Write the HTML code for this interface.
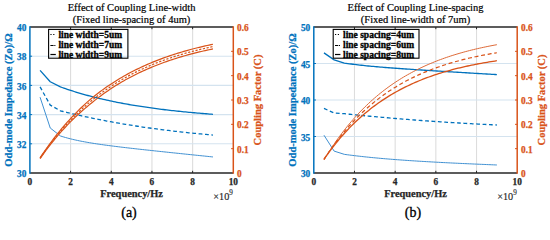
<!DOCTYPE html>
<html><head><meta charset="utf-8"><style>
html,body{margin:0;padding:0;background:#fff;}
svg{display:block;}
text{font-family:"Liberation Serif",serif;}
.t{font-size:10.5px;text-anchor:middle;fill:#000;stroke:#000;stroke-width:0.2px;}
.k{font-size:9.3px;font-weight:bold;text-anchor:middle;fill:#262626;stroke:#262626;stroke-width:0.25px;}
.kb{font-size:9.3px;font-weight:bold;text-anchor:end;fill:#0072BD;stroke:#0072BD;stroke-width:0.25px;}
.ko{font-size:9.3px;font-weight:bold;text-anchor:start;fill:#D95319;stroke:#D95319;stroke-width:0.25px;}
.al{font-size:10.4px;font-weight:bold;text-anchor:middle;fill:#262626;stroke:#262626;stroke-width:0.25px;}
.alb{font-size:10.5px;font-weight:bold;text-anchor:middle;fill:#0072BD;stroke:#0072BD;stroke-width:0.25px;}
.alo{font-size:10.5px;font-weight:bold;text-anchor:middle;fill:#D95319;stroke:#D95319;stroke-width:0.25px;}
.xm{font-size:10.2px;fill:#262626;stroke:#262626;stroke-width:0.15px;}
.lg{font-size:9.5px;font-weight:bold;fill:#000;stroke:#000;stroke-width:0.3px;}
.pl{font-size:14px;text-anchor:middle;fill:#000;stroke:#000;stroke-width:0.3px;}
</style></head><body>
<svg width="550" height="222" viewBox="0 0 550 222">
<rect width="550" height="222" fill="#fff"/>
<text x="131.6" y="10.7" class="t">Effect of Coupling Line-width</text>
<text x="131.6" y="22.5" class="t">(Fixed line-spacing of 4um)</text>
<line x1="70.58" y1="27.0" x2="70.58" y2="173.0" stroke="#DDDDDD" stroke-width="1.1"/>
<line x1="111.26" y1="27.0" x2="111.26" y2="173.0" stroke="#DDDDDD" stroke-width="1.1"/>
<line x1="151.94" y1="27.0" x2="151.94" y2="173.0" stroke="#DDDDDD" stroke-width="1.1"/>
<line x1="192.62" y1="27.0" x2="192.62" y2="173.0" stroke="#DDDDDD" stroke-width="1.1"/>
<line x1="29.9" y1="143.80" x2="233.3" y2="143.80" stroke="#D4E3EF" stroke-width="1.1"/>
<line x1="29.9" y1="114.60" x2="233.3" y2="114.60" stroke="#D4E3EF" stroke-width="1.1"/>
<line x1="29.9" y1="85.40" x2="233.3" y2="85.40" stroke="#D4E3EF" stroke-width="1.1"/>
<line x1="29.9" y1="56.20" x2="233.3" y2="56.20" stroke="#D4E3EF" stroke-width="1.1"/>
<polyline points="40.07,70.36 50.24,81.75 60.41,86.87 62.12,87.49 63.84,88.09 65.55,88.69 67.27,89.27 68.98,89.85 70.69,90.41 72.41,90.96 74.12,91.50 75.84,92.04 77.55,92.56 79.26,93.07 80.98,93.58 82.69,94.07 84.41,94.56 86.12,95.03 87.83,95.50 89.55,95.96 91.26,96.41 92.98,96.85 94.69,97.29 96.40,97.71 98.12,98.13 99.83,98.54 101.55,98.95 103.26,99.34 104.98,99.73 106.69,100.11 108.40,100.49 110.12,100.86 111.83,101.22 113.55,101.58 115.26,101.92 116.97,102.27 118.69,102.60 120.40,102.93 122.12,103.26 123.83,103.58 125.54,103.89 127.26,104.20 128.97,104.50 130.69,104.79 132.40,105.08 134.11,105.37 135.83,105.65 137.54,105.93 139.26,106.20 140.97,106.46 142.68,106.72 144.40,106.98 146.11,107.23 147.83,107.48 149.54,107.72 151.25,107.96 152.97,108.20 154.68,108.43 156.40,108.66 158.11,108.88 159.82,109.10 161.54,109.31 163.25,109.52 164.97,109.73 166.68,109.93 168.39,110.13 170.11,110.33 171.82,110.53 173.54,110.72 175.25,110.90 176.97,111.09 178.68,111.27 180.39,111.44 182.11,111.62 183.82,111.79 185.54,111.96 187.25,112.12 188.96,112.29 190.68,112.45 192.39,112.60 194.11,112.76 195.82,112.91 197.53,113.06 199.25,113.21 200.96,113.35 202.68,113.50 204.39,113.64 206.10,113.77 207.82,113.91 209.53,114.04 211.25,114.17 212.96,114.30" fill="none" stroke="#0072BD" stroke-width="1.3" stroke-linejoin="round"/>
<polyline points="40.07,86.86 50.24,105.11 60.41,110.81 62.12,111.25 63.84,111.68 65.55,112.10 67.27,112.52 68.98,112.94 70.69,113.35 72.41,113.76 74.12,114.16 75.84,114.56 77.55,114.95 79.26,115.34 80.98,115.73 82.69,116.11 84.41,116.49 86.12,116.86 87.83,117.23 89.55,117.59 91.26,117.95 92.98,118.31 94.69,118.66 96.40,119.01 98.12,119.35 99.83,119.69 101.55,120.03 103.26,120.36 104.98,120.69 106.69,121.02 108.40,121.34 110.12,121.66 111.83,121.97 113.55,122.28 115.26,122.59 116.97,122.89 118.69,123.19 120.40,123.49 122.12,123.78 123.83,124.07 125.54,124.35 127.26,124.64 128.97,124.92 130.69,125.19 132.40,125.46 134.11,125.73 135.83,126.00 137.54,126.26 139.26,126.52 140.97,126.78 142.68,127.03 144.40,127.28 146.11,127.53 147.83,127.77 149.54,128.01 151.25,128.25 152.97,128.49 154.68,128.72 156.40,128.95 158.11,129.17 159.82,129.40 161.54,129.62 163.25,129.83 164.97,130.05 166.68,130.26 168.39,130.47 170.11,130.68 171.82,130.88 173.54,131.08 175.25,131.28 176.97,131.48 178.68,131.67 180.39,131.86 182.11,132.05 183.82,132.24 185.54,132.42 187.25,132.60 188.96,132.78 190.68,132.96 192.39,133.13 194.11,133.30 195.82,133.47 197.53,133.64 199.25,133.80 200.96,133.96 202.68,134.12 204.39,134.28 206.10,134.43 207.82,134.59 209.53,134.74 211.25,134.89 212.96,135.03" fill="none" stroke="#0072BD" stroke-width="1.3" stroke-dasharray="3.8,2.6" stroke-linejoin="round"/>
<polyline points="40.07,97.23 50.24,128.03 60.41,135.95 62.12,136.50 63.84,137.02 65.55,137.52 67.27,138.00 68.98,138.45 70.69,138.89 72.41,139.31 74.12,139.71 75.84,140.09 77.55,140.46 79.26,140.82 80.98,141.16 82.69,141.49 84.41,141.81 86.12,142.12 87.83,142.43 89.55,142.72 91.26,143.00 92.98,143.28 94.69,143.55 96.40,143.81 98.12,144.07 99.83,144.32 101.55,144.57 103.26,144.81 104.98,145.05 106.69,145.28 108.40,145.51 110.12,145.73 111.83,145.95 113.55,146.17 115.26,146.39 116.97,146.60 118.69,146.81 120.40,147.02 122.12,147.22 123.83,147.43 125.54,147.63 127.26,147.83 128.97,148.03 130.69,148.22 132.40,148.42 134.11,148.61 135.83,148.80 137.54,149.00 139.26,149.19 140.97,149.38 142.68,149.56 144.40,149.75 146.11,149.94 147.83,150.12 149.54,150.31 151.25,150.50 152.97,150.68 154.68,150.86 156.40,151.05 158.11,151.23 159.82,151.41 161.54,151.59 163.25,151.77 164.97,151.96 166.68,152.14 168.39,152.32 170.11,152.50 171.82,152.68 173.54,152.86 175.25,153.04 176.97,153.22 178.68,153.39 180.39,153.57 182.11,153.75 183.82,153.93 185.54,154.11 187.25,154.29 188.96,154.47 190.68,154.64 192.39,154.82 194.11,155.00 195.82,155.18 197.53,155.35 199.25,155.53 200.96,155.71 202.68,155.89 204.39,156.06 206.10,156.24 207.82,156.42 209.53,156.60 211.25,156.77 212.96,156.95" fill="none" stroke="#3F90D2" stroke-width="1.0" stroke-linejoin="round"/>
<polyline points="40.07,157.73 42.01,154.89 43.96,152.12 45.90,149.36 47.84,146.59 49.78,143.90 51.73,141.26 53.67,138.68 55.61,136.16 57.55,133.70 59.50,131.29 61.44,128.94 63.38,126.64 65.32,124.39 67.27,122.18 69.21,120.03 71.15,117.92 73.09,115.86 75.04,113.84 76.98,111.87 78.92,109.94 80.86,108.05 82.81,106.20 84.75,104.39 86.69,102.62 88.63,100.89 90.58,99.20 92.52,97.59 94.46,96.03 96.40,94.50 98.35,93.01 100.29,91.55 102.23,90.12 104.18,88.72 106.12,87.35 108.06,86.01 110.00,84.70 111.95,83.42 113.89,82.17 115.83,80.95 117.77,79.75 119.72,78.58 121.66,77.43 123.60,76.31 125.54,75.21 127.49,74.14 129.43,73.09 131.37,72.06 133.31,71.06 135.26,70.08 137.20,69.12 139.14,68.18 141.08,67.26 143.03,66.36 144.97,65.48 146.91,64.62 148.85,63.78 150.80,62.96 152.74,62.15 154.68,61.36 156.63,60.59 158.57,59.84 160.51,59.10 162.45,58.38 164.40,57.68 166.34,56.99 168.28,56.31 170.22,55.65 172.17,55.01 174.11,54.37 176.05,53.76 177.99,53.15 179.94,52.56 181.88,51.98 183.82,51.42 185.76,50.87 187.71,50.32 189.65,49.79 191.59,49.28 193.53,48.77 195.48,48.28 197.42,47.79 199.36,47.32 201.30,46.85 203.25,46.40 205.19,45.96 207.13,45.52 209.07,45.10 211.02,44.68 212.96,44.28" fill="none" stroke="#D95319" stroke-width="1.2" stroke-linejoin="round"/>
<polyline points="40.07,158.65 42.01,155.81 43.96,153.04 45.90,150.38 47.84,147.84 49.78,145.35 51.73,142.91 53.67,140.52 55.61,138.18 57.55,135.89 59.50,133.65 61.44,131.46 63.38,129.32 65.32,127.22 67.27,125.17 69.21,123.16 71.15,121.20 73.09,119.28 75.04,117.40 76.98,115.56 78.92,113.77 80.86,112.01 82.81,110.29 84.75,108.62 86.69,106.97 88.63,105.37 90.58,103.80 92.52,102.21 94.46,100.65 96.40,99.12 98.35,97.63 100.29,96.17 102.23,94.74 104.18,93.34 106.12,91.97 108.06,90.64 110.00,89.33 111.95,88.05 113.89,86.79 115.83,85.57 117.77,84.37 119.72,83.20 121.66,82.05 123.60,80.93 125.54,79.84 127.49,78.76 129.43,77.71 131.37,76.69 133.31,75.68 135.26,74.70 137.20,73.74 139.14,72.80 141.08,71.88 143.03,70.98 144.97,70.10 146.91,69.24 148.85,68.40 150.80,67.58 152.74,66.77 154.68,65.99 156.63,65.22 158.57,64.46 160.51,63.73 162.45,63.00 164.40,62.30 166.34,61.61 168.28,60.93 170.22,60.28 172.17,59.63 174.11,59.00 176.05,58.38 177.99,57.78 179.94,57.19 181.88,56.61 183.82,56.04 185.76,55.49 187.71,54.95 189.65,54.42 191.59,53.90 193.53,53.39 195.48,52.90 197.42,52.41 199.36,51.94 201.30,51.48 203.25,51.02 205.19,50.58 207.13,50.15 209.07,49.72 211.02,49.31 212.96,48.90" fill="none" stroke="#D95319" stroke-width="1.2" stroke-linejoin="round"/>
<polyline points="40.07,158.19 42.01,155.35 43.96,152.58 45.90,149.87 47.84,147.22 49.78,144.62 51.73,142.08 53.67,139.60 55.61,137.17 57.55,134.80 59.50,132.47 61.44,130.20 63.38,127.98 65.32,125.80 67.27,123.67 69.21,121.59 71.15,119.56 73.09,117.57 75.04,115.62 76.98,113.72 78.92,111.85 80.86,110.03 82.81,108.25 84.75,106.50 86.69,104.80 88.63,103.13 90.58,101.50 92.52,99.90 94.46,98.34 96.40,96.81 98.35,95.32 100.29,93.86 102.23,92.43 104.18,91.03 106.12,89.66 108.06,88.32 110.00,87.02 111.95,85.74 113.89,84.48 115.83,83.26 117.77,82.06 119.72,80.89 121.66,79.74 123.60,78.62 125.54,77.52 127.49,76.45 129.43,75.40 131.37,74.38 133.31,73.37 135.26,72.39 137.20,71.43 139.14,70.49 141.08,69.57 143.03,68.67 144.97,67.79 146.91,66.93 148.85,66.09 150.80,65.27 152.74,64.46 154.68,63.67 156.63,62.90 158.57,62.15 160.51,61.41 162.45,60.69 164.40,59.99 166.34,59.30 168.28,58.62 170.22,57.96 172.17,57.32 174.11,56.69 176.05,56.07 177.99,55.46 179.94,54.87 181.88,54.30 183.82,53.73 185.76,53.18 187.71,52.64 189.65,52.11 191.59,51.59 193.53,51.08 195.48,50.59 197.42,50.10 199.36,49.63 201.30,49.17 203.25,48.71 205.19,48.27 207.13,47.83 209.07,47.41 211.02,47.00 212.96,46.59" fill="none" stroke="#D95319" stroke-width="1.2" stroke-dasharray="2.2,1.6" stroke-linejoin="round"/>
<line x1="29.9" y1="27.0" x2="233.3" y2="27.0" stroke="#262626" stroke-width="1.5"/>
<line x1="29.9" y1="173.0" x2="233.3" y2="173.0" stroke="#262626" stroke-width="1.5"/>
<line x1="29.9" y1="26.3" x2="29.9" y2="173.7" stroke="#0072BD" stroke-width="1.5"/>
<line x1="233.3" y1="26.3" x2="233.3" y2="173.7" stroke="#D95319" stroke-width="1.5"/>
<line x1="70.58" y1="173.0" x2="70.58" y2="170.8" stroke="#262626" stroke-width="1"/>
<line x1="70.58" y1="27.0" x2="70.58" y2="29.2" stroke="#262626" stroke-width="1"/>
<line x1="111.26" y1="173.0" x2="111.26" y2="170.8" stroke="#262626" stroke-width="1"/>
<line x1="111.26" y1="27.0" x2="111.26" y2="29.2" stroke="#262626" stroke-width="1"/>
<line x1="151.94" y1="173.0" x2="151.94" y2="170.8" stroke="#262626" stroke-width="1"/>
<line x1="151.94" y1="27.0" x2="151.94" y2="29.2" stroke="#262626" stroke-width="1"/>
<line x1="192.62" y1="173.0" x2="192.62" y2="170.8" stroke="#262626" stroke-width="1"/>
<line x1="192.62" y1="27.0" x2="192.62" y2="29.2" stroke="#262626" stroke-width="1"/>
<line x1="29.9" y1="143.80" x2="32.1" y2="143.80" stroke="#0072BD" stroke-width="1"/>
<line x1="29.9" y1="114.60" x2="32.1" y2="114.60" stroke="#0072BD" stroke-width="1"/>
<line x1="29.9" y1="85.40" x2="32.1" y2="85.40" stroke="#0072BD" stroke-width="1"/>
<line x1="29.9" y1="56.20" x2="32.1" y2="56.20" stroke="#0072BD" stroke-width="1"/>
<line x1="233.3" y1="148.67" x2="231.10000000000002" y2="148.67" stroke="#D95319" stroke-width="1"/>
<line x1="233.3" y1="124.33" x2="231.10000000000002" y2="124.33" stroke="#D95319" stroke-width="1"/>
<line x1="233.3" y1="100.00" x2="231.10000000000002" y2="100.00" stroke="#D95319" stroke-width="1"/>
<line x1="233.3" y1="75.67" x2="231.10000000000002" y2="75.67" stroke="#D95319" stroke-width="1"/>
<line x1="233.3" y1="51.33" x2="231.10000000000002" y2="51.33" stroke="#D95319" stroke-width="1"/>
<text x="29.90" y="185" class="k">0</text>
<text x="70.58" y="185" class="k">2</text>
<text x="111.26" y="185" class="k">4</text>
<text x="151.94" y="185" class="k">6</text>
<text x="192.62" y="185" class="k">8</text>
<text x="233.30" y="185" class="k">10</text>
<text x="26.30" y="177.10" class="kb">30</text>
<text x="26.30" y="147.90" class="kb">32</text>
<text x="26.30" y="118.70" class="kb">34</text>
<text x="26.30" y="89.50" class="kb">36</text>
<text x="26.30" y="60.30" class="kb">38</text>
<text x="26.30" y="31.10" class="kb">40</text>
<text x="237.10" y="177.10" class="ko">0</text>
<text x="237.10" y="152.77" class="ko">0.1</text>
<text x="237.10" y="128.43" class="ko">0.2</text>
<text x="237.10" y="104.10" class="ko">0.3</text>
<text x="237.10" y="79.77" class="ko">0.4</text>
<text x="237.10" y="55.43" class="ko">0.5</text>
<text x="237.10" y="31.10" class="ko">0.6</text>
<text x="131.6" y="197.3" class="al">Frequency/Hz</text>
<text x="213.3" y="199.7" class="xm">×10<tspan dy="-4.6" font-size="7.2">9</tspan></text>
<text transform="translate(12.3,100) rotate(-90)" class="alb">Odd-mode Impedance (Zo)/Ω</text>
<text transform="translate(261.1,100) rotate(-90)" class="alo">Coupling Factor (C)</text>
<rect x="48.6" y="29.4" width="79.30000000000001" height="28.800000000000004" fill="none" stroke="#000" stroke-width="1.1"/>
<line x1="50.4" y1="34.5" x2="56.0" y2="34.5" stroke="#000" stroke-width="1.2" stroke-dasharray="1.2,1.6"/>
<text x="58.4" y="37.8" class="lg">line width=5um</text>
<line x1="50.4" y1="45.5" x2="55.4" y2="45.5" stroke="#000" stroke-width="1.2" stroke-dasharray="3.2,0.7"/>
<text x="58.4" y="48.2" class="lg">line width=7um</text>
<line x1="50.4" y1="54.5" x2="55.8" y2="54.5" stroke="#000" stroke-width="1.2"/>
<text x="58.4" y="57.7" class="lg">line width=9um</text>
<text x="129.0" y="217" class="pl">(a)</text>
<text x="415.5" y="10.7" class="t">Effect of Coupling Line-spacing</text>
<text x="415.5" y="22.5" class="t">(Fixed line-width of 7um)</text>
<line x1="354.48" y1="27.0" x2="354.48" y2="173.0" stroke="#DDDDDD" stroke-width="1.1"/>
<line x1="395.16" y1="27.0" x2="395.16" y2="173.0" stroke="#DDDDDD" stroke-width="1.1"/>
<line x1="435.84" y1="27.0" x2="435.84" y2="173.0" stroke="#DDDDDD" stroke-width="1.1"/>
<line x1="476.52" y1="27.0" x2="476.52" y2="173.0" stroke="#DDDDDD" stroke-width="1.1"/>
<line x1="313.8" y1="136.50" x2="517.2" y2="136.50" stroke="#D4E3EF" stroke-width="1.1"/>
<line x1="313.8" y1="100.00" x2="517.2" y2="100.00" stroke="#D4E3EF" stroke-width="1.1"/>
<line x1="313.8" y1="63.50" x2="517.2" y2="63.50" stroke="#D4E3EF" stroke-width="1.1"/>
<polyline points="323.97,52.91 334.14,59.85 344.31,63.02 346.02,63.28 347.74,63.54 349.45,63.78 351.17,64.01 352.88,64.24 354.59,64.46 356.31,64.67 358.02,64.88 359.74,65.07 361.45,65.27 363.16,65.45 364.88,65.63 366.59,65.81 368.31,65.98 370.02,66.14 371.73,66.31 373.45,66.46 375.16,66.62 376.88,66.77 378.59,66.92 380.30,67.06 382.02,67.21 383.73,67.35 385.45,67.48 387.16,67.62 388.88,67.75 390.59,67.88 392.30,68.01 394.02,68.14 395.73,68.27 397.45,68.39 399.16,68.51 400.87,68.63 402.59,68.75 404.30,68.87 406.02,68.99 407.73,69.11 409.44,69.22 411.16,69.34 412.87,69.45 414.59,69.57 416.30,69.68 418.01,69.79 419.73,69.90 421.44,70.01 423.16,70.13 424.87,70.24 426.58,70.34 428.30,70.45 430.01,70.56 431.73,70.67 433.44,70.78 435.15,70.88 436.87,70.99 438.58,71.10 440.30,71.20 442.01,71.31 443.72,71.42 445.44,71.52 447.15,71.63 448.87,71.73 450.58,71.84 452.29,71.94 454.01,72.05 455.72,72.15 457.44,72.25 459.15,72.36 460.87,72.46 462.58,72.57 464.29,72.67 466.01,72.77 467.72,72.88 469.44,72.98 471.15,73.08 472.86,73.19 474.58,73.29 476.29,73.39 478.01,73.50 479.72,73.60 481.43,73.70 483.15,73.81 484.86,73.91 486.58,74.01 488.29,74.11 490.00,74.22 491.72,74.32 493.43,74.42 495.15,74.52 496.86,74.63" fill="none" stroke="#0072BD" stroke-width="1.3" stroke-linejoin="round"/>
<polyline points="323.97,108.47 334.14,112.92 344.31,113.72 346.02,113.90 347.74,114.07 349.45,114.24 351.17,114.42 352.88,114.59 354.59,114.76 356.31,114.93 358.02,115.09 359.74,115.26 361.45,115.42 363.16,115.59 364.88,115.75 366.59,115.91 368.31,116.08 370.02,116.24 371.73,116.39 373.45,116.55 375.16,116.71 376.88,116.86 378.59,117.02 380.30,117.17 382.02,117.32 383.73,117.47 385.45,117.62 387.16,117.77 388.88,117.92 390.59,118.07 392.30,118.21 394.02,118.36 395.73,118.50 397.45,118.64 399.16,118.78 400.87,118.92 402.59,119.06 404.30,119.20 406.02,119.33 407.73,119.47 409.44,119.60 411.16,119.74 412.87,119.87 414.59,120.00 416.30,120.13 418.01,120.26 419.73,120.39 421.44,120.51 423.16,120.64 424.87,120.76 426.58,120.89 428.30,121.01 430.01,121.13 431.73,121.25 433.44,121.37 435.15,121.48 436.87,121.60 438.58,121.72 440.30,121.83 442.01,121.94 443.72,122.06 445.44,122.17 447.15,122.28 448.87,122.39 450.58,122.49 452.29,122.60 454.01,122.70 455.72,122.81 457.44,122.91 459.15,123.01 460.87,123.12 462.58,123.22 464.29,123.31 466.01,123.41 467.72,123.51 469.44,123.60 471.15,123.70 472.86,123.79 474.58,123.88 476.29,123.97 478.01,124.06 479.72,124.15 481.43,124.24 483.15,124.33 484.86,124.41 486.58,124.50 488.29,124.58 490.00,124.66 491.72,124.74 493.43,124.82 495.15,124.90 496.86,124.98" fill="none" stroke="#0072BD" stroke-width="1.3" stroke-dasharray="3.8,2.6" stroke-linejoin="round"/>
<polyline points="323.97,135.19 334.14,151.10 344.31,154.34 346.02,154.58 347.74,154.80 349.45,155.02 351.17,155.24 352.88,155.45 354.59,155.66 356.31,155.87 358.02,156.07 359.74,156.26 361.45,156.45 363.16,156.64 364.88,156.83 366.59,157.01 368.31,157.18 370.02,157.35 371.73,157.52 373.45,157.69 375.16,157.85 376.88,158.01 378.59,158.17 380.30,158.33 382.02,158.48 383.73,158.63 385.45,158.77 387.16,158.92 388.88,159.06 390.59,159.20 392.30,159.33 394.02,159.47 395.73,159.60 397.45,159.73 399.16,159.85 400.87,159.98 402.59,160.10 404.30,160.22 406.02,160.34 407.73,160.46 409.44,160.58 411.16,160.69 412.87,160.80 414.59,160.91 416.30,161.02 418.01,161.13 419.73,161.24 421.44,161.34 423.16,161.44 424.87,161.54 426.58,161.65 428.30,161.74 430.01,161.84 431.73,161.94 433.44,162.03 435.15,162.13 436.87,162.22 438.58,162.31 440.30,162.41 442.01,162.50 443.72,162.58 445.44,162.67 447.15,162.76 448.87,162.85 450.58,162.93 452.29,163.02 454.01,163.10 455.72,163.18 457.44,163.26 459.15,163.35 460.87,163.43 462.58,163.51 464.29,163.58 466.01,163.66 467.72,163.74 469.44,163.82 471.15,163.89 472.86,163.97 474.58,164.05 476.29,164.12 478.01,164.19 479.72,164.27 481.43,164.34 483.15,164.41 484.86,164.48 486.58,164.56 488.29,164.63 490.00,164.70 491.72,164.77 493.43,164.84 495.15,164.91 496.86,164.98" fill="none" stroke="#3F90D2" stroke-width="1.0" stroke-linejoin="round"/>
<polyline points="323.97,159.86 325.91,156.67 327.86,153.56 329.80,150.53 331.74,147.57 333.68,144.68 335.63,141.87 337.57,139.12 339.51,136.45 341.45,133.84 343.40,131.29 345.34,128.81 347.28,126.39 349.22,124.03 351.17,121.72 353.11,119.48 355.05,117.29 356.99,115.15 358.94,113.06 360.88,111.03 362.82,109.05 364.76,107.12 366.71,105.23 368.65,103.39 370.59,101.60 372.53,99.85 374.48,98.14 376.42,96.48 378.36,94.85 380.30,93.27 382.25,91.73 384.19,90.22 386.13,88.75 388.08,87.32 390.02,85.92 391.96,84.56 393.90,83.23 395.85,81.94 397.79,80.67 399.73,79.44 401.67,78.24 403.62,77.06 405.56,75.92 407.50,74.81 409.44,73.72 411.39,72.66 413.33,71.62 415.27,70.61 417.21,69.63 419.16,68.67 421.10,67.73 423.04,66.82 424.98,65.93 426.93,65.06 428.87,64.21 430.81,63.39 432.75,62.58 434.70,61.79 436.64,61.03 438.58,60.28 440.53,59.55 442.47,58.84 444.41,58.15 446.35,57.47 448.30,56.81 450.24,56.17 452.18,55.54 454.12,54.93 456.07,54.33 458.01,53.75 459.95,53.18 461.89,52.63 463.84,52.09 465.78,51.56 467.72,51.05 469.66,50.54 471.61,50.06 473.55,49.58 475.49,49.11 477.43,48.66 479.38,48.22 481.32,47.79 483.26,47.37 485.20,46.96 487.15,46.56 489.09,46.17 491.03,45.79 492.97,45.41 494.92,45.05 496.86,44.70" fill="none" stroke="#DE6A38" stroke-width="1.0" stroke-linejoin="round"/>
<polyline points="323.97,159.44 325.91,156.45 327.86,153.54 329.80,150.71 331.74,147.94 333.68,145.25 335.63,142.62 337.57,140.06 339.51,137.56 341.45,135.12 343.40,132.74 345.34,130.43 347.28,128.17 349.22,125.97 351.17,123.82 353.11,121.73 355.05,119.69 356.99,117.70 358.94,115.76 360.88,113.87 362.82,112.03 364.76,110.23 366.71,108.48 368.65,106.77 370.59,105.11 372.53,103.48 374.48,101.90 376.42,100.35 378.36,98.85 380.30,97.38 382.25,95.95 384.19,94.56 386.13,93.20 388.08,91.87 390.02,90.58 391.96,89.32 393.90,88.09 395.85,86.89 397.79,85.72 399.73,84.58 401.67,83.47 403.62,82.39 405.56,81.34 407.50,80.31 409.44,79.30 411.39,78.33 413.33,77.37 415.27,76.44 417.21,75.54 419.16,74.65 421.10,73.79 423.04,72.95 424.98,72.13 426.93,71.33 428.87,70.56 430.81,69.80 432.75,69.06 434.70,68.33 436.64,67.63 438.58,66.95 440.53,66.28 442.47,65.62 444.41,64.99 446.35,64.37 448.30,63.76 450.24,63.18 452.18,62.60 454.12,62.04 456.07,61.50 458.01,60.96 459.95,60.44 461.89,59.94 463.84,59.44 465.78,58.96 467.72,58.49 469.66,58.04 471.61,57.59 473.55,57.16 475.49,56.73 477.43,56.32 479.38,55.92 481.32,55.53 483.26,55.14 485.20,54.77 487.15,54.41 489.09,54.05 491.03,53.70 492.97,53.37 494.92,53.04 496.86,52.72" fill="none" stroke="#D95319" stroke-width="1.2" stroke-dasharray="4,2.7" stroke-linejoin="round"/>
<polyline points="323.97,159.27 325.91,156.49 327.86,153.78 329.80,151.14 331.74,148.57 333.68,146.06 335.63,143.62 337.57,141.24 339.51,138.92 341.45,136.65 343.40,134.45 345.34,132.30 347.28,130.20 349.22,128.16 351.17,126.17 353.11,124.23 355.05,122.34 356.99,120.50 358.94,118.70 360.88,116.95 362.82,115.24 364.76,113.58 366.71,111.96 368.65,110.38 370.59,108.84 372.53,107.33 374.48,105.87 376.42,104.44 378.36,103.05 380.30,101.70 382.25,100.38 384.19,99.09 386.13,97.84 388.08,96.61 390.02,95.42 391.96,94.26 393.90,93.13 395.85,92.02 397.79,90.95 399.73,89.90 401.67,88.88 403.62,87.88 405.56,86.91 407.50,85.96 409.44,85.04 411.39,84.14 413.33,83.27 415.27,82.41 417.21,81.58 419.16,80.77 421.10,79.98 423.04,79.21 424.98,78.46 426.93,77.72 428.87,77.01 430.81,76.32 432.75,75.64 434.70,74.98 436.64,74.33 438.58,73.70 440.53,73.09 442.47,72.50 444.41,71.91 446.35,71.35 448.30,70.80 450.24,70.26 452.18,69.73 454.12,69.22 456.07,68.72 458.01,68.24 459.95,67.76 461.89,67.30 463.84,66.85 465.78,66.41 467.72,65.99 469.66,65.57 471.61,65.16 473.55,64.77 475.49,64.38 477.43,64.01 479.38,63.64 481.32,63.28 483.26,62.94 485.20,62.60 487.15,62.27 489.09,61.94 491.03,61.63 492.97,61.32 494.92,61.02 496.86,60.73" fill="none" stroke="#D95319" stroke-width="1.3" stroke-linejoin="round"/>
<line x1="313.8" y1="27.0" x2="517.2" y2="27.0" stroke="#262626" stroke-width="1.5"/>
<line x1="313.8" y1="173.0" x2="517.2" y2="173.0" stroke="#262626" stroke-width="1.5"/>
<line x1="313.8" y1="26.3" x2="313.8" y2="173.7" stroke="#0072BD" stroke-width="1.5"/>
<line x1="517.2" y1="26.3" x2="517.2" y2="173.7" stroke="#D95319" stroke-width="1.5"/>
<line x1="354.48" y1="173.0" x2="354.48" y2="170.8" stroke="#262626" stroke-width="1"/>
<line x1="354.48" y1="27.0" x2="354.48" y2="29.2" stroke="#262626" stroke-width="1"/>
<line x1="395.16" y1="173.0" x2="395.16" y2="170.8" stroke="#262626" stroke-width="1"/>
<line x1="395.16" y1="27.0" x2="395.16" y2="29.2" stroke="#262626" stroke-width="1"/>
<line x1="435.84" y1="173.0" x2="435.84" y2="170.8" stroke="#262626" stroke-width="1"/>
<line x1="435.84" y1="27.0" x2="435.84" y2="29.2" stroke="#262626" stroke-width="1"/>
<line x1="476.52" y1="173.0" x2="476.52" y2="170.8" stroke="#262626" stroke-width="1"/>
<line x1="476.52" y1="27.0" x2="476.52" y2="29.2" stroke="#262626" stroke-width="1"/>
<line x1="313.8" y1="136.50" x2="316.0" y2="136.50" stroke="#0072BD" stroke-width="1"/>
<line x1="313.8" y1="100.00" x2="316.0" y2="100.00" stroke="#0072BD" stroke-width="1"/>
<line x1="313.8" y1="63.50" x2="316.0" y2="63.50" stroke="#0072BD" stroke-width="1"/>
<line x1="517.2" y1="148.67" x2="515.0" y2="148.67" stroke="#D95319" stroke-width="1"/>
<line x1="517.2" y1="124.33" x2="515.0" y2="124.33" stroke="#D95319" stroke-width="1"/>
<line x1="517.2" y1="100.00" x2="515.0" y2="100.00" stroke="#D95319" stroke-width="1"/>
<line x1="517.2" y1="75.67" x2="515.0" y2="75.67" stroke="#D95319" stroke-width="1"/>
<line x1="517.2" y1="51.33" x2="515.0" y2="51.33" stroke="#D95319" stroke-width="1"/>
<text x="313.80" y="185" class="k">0</text>
<text x="354.48" y="185" class="k">2</text>
<text x="395.16" y="185" class="k">4</text>
<text x="435.84" y="185" class="k">6</text>
<text x="476.52" y="185" class="k">8</text>
<text x="517.20" y="185" class="k">10</text>
<text x="310.20" y="177.10" class="kb">30</text>
<text x="310.20" y="140.60" class="kb">35</text>
<text x="310.20" y="104.10" class="kb">40</text>
<text x="310.20" y="67.60" class="kb">45</text>
<text x="310.20" y="31.10" class="kb">50</text>
<text x="521.00" y="177.10" class="ko">0</text>
<text x="521.00" y="152.77" class="ko">0.1</text>
<text x="521.00" y="128.43" class="ko">0.2</text>
<text x="521.00" y="104.10" class="ko">0.3</text>
<text x="521.00" y="79.77" class="ko">0.4</text>
<text x="521.00" y="55.43" class="ko">0.5</text>
<text x="521.00" y="31.10" class="ko">0.6</text>
<text x="415.5" y="197.3" class="al">Frequency/Hz</text>
<text x="497.2" y="199.7" class="xm">×10<tspan dy="-4.6" font-size="7.2">9</tspan></text>
<text transform="translate(296.2,100) rotate(-90)" class="alb">Odd-mode Impedance (Zo)/Ω</text>
<text transform="translate(545.0,100) rotate(-90)" class="alo">Coupling Factor (C)</text>
<rect x="333.2" y="29.4" width="85.80000000000001" height="28.800000000000004" fill="none" stroke="#000" stroke-width="1.1"/>
<line x1="335.0" y1="34.5" x2="340.6" y2="34.5" stroke="#000" stroke-width="1.2" stroke-dasharray="1.2,1.6"/>
<text x="343.0" y="37.8" class="lg">line spacing=4um</text>
<line x1="335.0" y1="45.5" x2="340.0" y2="45.5" stroke="#000" stroke-width="1.2" stroke-dasharray="3.2,0.7"/>
<text x="343.0" y="48.2" class="lg">line spacing=6um</text>
<line x1="335.0" y1="54.5" x2="340.4" y2="54.5" stroke="#000" stroke-width="1.2"/>
<text x="343.0" y="57.7" class="lg">line spacing=8um</text>
<text x="412.9" y="217" class="pl">(b)</text>
</svg>
</body></html>
